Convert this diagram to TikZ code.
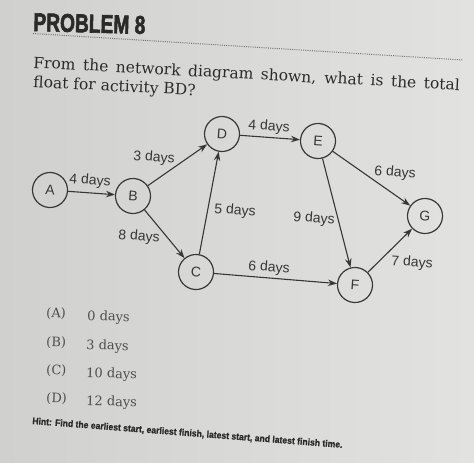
\documentclass[tikz,border=0pt]{standalone}
\usepackage{fontspec}
\setmainfont{DejaVu Serif}
\setsansfont{Liberation Sans}
\newfontfamily\ttlfont[FakeBold=2.5]{Liberation Sans Bold}
\newfontfamily\hintfont[FakeBold=1]{Liberation Sans Bold}
\usetikzlibrary{arrows.meta}
\definecolor{bgL}{RGB}{208,208,206}
\definecolor{bgR}{RGB}{226,226,224}
\definecolor{ink}{RGB}{55,55,55}
\definecolor{inkq}{RGB}{42,42,42}
\definecolor{inka}{RGB}{78,78,78}
\definecolor{dotc}{RGB}{115,115,115}
\begin{document}
\begin{tikzpicture}[x=1pt,y=-1pt,
  ev/.style={circle,draw=ink,line width=1.2pt,minimum size=35pt,inner sep=0pt,
    font=\sffamily\fontsize{14}{14}\selectfont,text=ink,rotate=-4},
  act/.style={draw=ink,line width=1.1pt,-{Stealth[length=9pt,width=6.5pt]}},
  dur/.style={font=\sffamily\fontsize{14}{14}\selectfont,text=ink,rotate=-4,inner sep=0pt},
  qtext/.style={font=\fontsize{15.5}{15.5}\selectfont,text=inkq,anchor=base west,inner sep=0pt,rotate=-3},
  ans/.style={font=\fontsize{13}{13}\selectfont,text=inka,anchor=base west,inner sep=0pt,rotate=-2},
  ttl/.style={text=inkq,anchor=base west,inner sep=0pt,rotate=-1.5},
  hint/.style={text=inkq,anchor=base west,inner sep=0pt,rotate=-4.4}]
\useasboundingbox (0,0) rectangle (474,463);
\shade[left color=bgL,right color=bgR] (0,0) rectangle (474,463);

% title and rule
\node[ttl] (title) at (33,31) {\resizebox{112pt}{18pt}{\ttlfont PROBLEM 8}};
\draw[dotc,line width=1pt,dash pattern=on 1pt off 1.2pt] (33,33.5) -- (463,60);

% question
\node[qtext] (q1) at (33,68) {\makebox[427pt][s]{From the network diagram shown, what is the total}};
\node[qtext] (q2) at (33,87) {float for activity BD?};

% events
\node[ev] (A) at (50,190) {A};
\node[ev] (B) at (133,196) {B};
\node[ev] (D) at (222,134) {D};
\node[ev] (E) at (318,141) {E};
\node[ev] (G) at (425,216) {G};
\node[ev] (F) at (355,285) {F};
\node[ev] (C) at (196,272) {C};

% activities
\draw[act] (A) -- (B);
\draw[act] (B) -- (D);
\draw[act] (B) -- (C);
\draw[act] (C) -- (D);
\draw[act] (D) -- (E);
\draw[act] (E) -- (G);
\draw[act] (E) -- (F);
\draw[act] (C) -- (F);
\draw[act] (F) -- (G);

% durations
\node[dur] (lAB) at (90,181) {4 days};
\node[dur] (lBD) at (154,158) {3 days};
\node[dur] (lBC) at (139,237) {8 days};
\node[dur] (lCD) at (235,211) {5 days};
\node[dur] (lDE) at (269,127) {4 days};
\node[dur] (lEG) at (395,173) {6 days};
\node[dur] (lEF) at (314,219) {9 days};
\node[dur] (lCF) at (269,268) {6 days};
\node[dur] (lFG) at (412,263) {7 days};

% answers
\node[ans] (oA) at (46,317) {(A)};
\node[ans] (vA) at (87,320) {0 days};
\node[ans] (oB) at (46,346) {(B)};
\node[ans] (vB) at (86,349) {3 days};
\node[ans] (oC) at (46,374) {(C)};
\node[ans] (vC) at (86,377) {10 days};
\node[ans] (oD) at (46,402) {(D)};
\node[ans] (vD) at (86,405) {12 days};

% hint
\node[hint] (hint) at (32,424) {\resizebox{311pt}{6.8pt}{\hintfont Hint: Find the earliest start, earliest finish, latest start, and latest finish time.}};
\end{tikzpicture}
\end{document}
